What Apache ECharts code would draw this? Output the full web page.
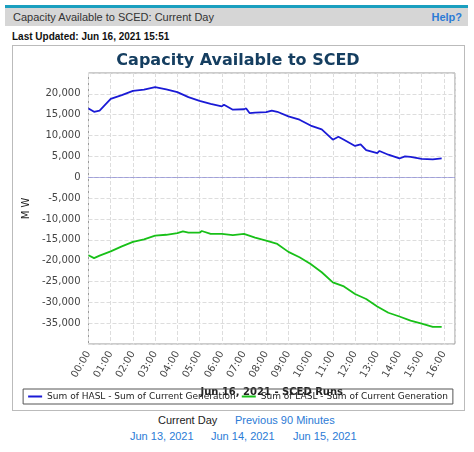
<!DOCTYPE html>
<html><head><meta charset="utf-8">
<script src="https://cdn.jsdelivr.net/npm/echarts@6/dist/echarts.min.js"></script>
<style>
body{margin:0;background:#fff;font-family:Arial,"Liberation Sans",sans-serif;}
#top{position:absolute;left:5px;top:5px;width:463px;height:3px;background:#1a9fbf;}
#hdr{position:absolute;left:5px;top:8px;width:463px;height:18px;background:#d6d6d6;font-size:11px;color:#333;line-height:18px;}
#hdr span{position:absolute;left:8px;}
#hdr a{position:absolute;right:6px;color:#2b7bd6;font-weight:bold;text-decoration:none;}
#upd{position:absolute;left:12px;top:31px;font-size:10px;font-weight:bold;color:#111;}
#box{position:absolute;left:12px;top:45px;width:451px;height:364px;border:1px solid #bbb;}
#c{position:absolute;left:13px;top:46px;width:450px;height:362px;}
.f{position:absolute;font-size:11px;}
.l{color:#2b7bd6;}
</style></head><body>
<div id="top"></div>
<div id="hdr"><span>Capacity Available to SCED: Current Day</span><a>Help?</a></div>
<div id="upd">Last Updated: Jun 16, 2021 15:51</div>
<div id="box"></div>
<div id="c"></div>
<div class="f" style="left:158px;top:414px;color:#222">Current Day</div>
<div class="f l" style="left:235px;top:414px">Previous 90 Minutes</div>
<div class="f l" style="left:130px;top:430px">Jun 13, 2021</div>
<div class="f l" style="left:211px;top:430px">Jun 14, 2021</div>
<div class="f l" style="left:293px;top:430px">Jun 15, 2021</div>
<script>
const hours=[0,0.25,0.5,1,1.5,2,2.5,3,3.5,4,4.5,5,5.5,6,6.1,6.5,7,7.1,7.25,7.5,8,8.25,8.5,9,9.5,10,10.5,11,11.25,11.5,12,12.25,12.5,13,13.1,13.5,14,14.25,14.5,15,15.5,15.9];
const hasl=[16500,15700,16000,18800,19700,20700,21000,21600,21100,20400,19200,18300,17600,17000,17400,16200,16300,16500,15400,15500,15600,16000,15700,14600,13800,12400,11500,9000,9700,9000,7500,7900,6500,5800,6300,5400,4500,5000,4900,4400,4300,4500];
const lHours=[0,0.25,0.5,1,1.5,2,2.5,3,3.5,4,4.25,4.5,5,5.1,5.5,6,6.5,7,7.5,8,8.5,9,9.5,10,10.5,11,11.5,12,12.5,13,13.5,14,14.5,15,15.5,15.9];
const lasl=[-18700,-19400,-18800,-17800,-16600,-15500,-14900,-14000,-13800,-13400,-13000,-13300,-13300,-12900,-13600,-13600,-13900,-13600,-14500,-15200,-16000,-17900,-19200,-20800,-22800,-25200,-26200,-28000,-29200,-31000,-32500,-33400,-34400,-35100,-35900,-35900];
const c=echarts.init(document.getElementById('c'));
const ff='Verdana,"DejaVu Sans",sans-serif';
c.setOption({
 animation:false,
 title:{text:'Capacity Available to SCED',left:'center',top:2,textStyle:{fontSize:16,fontWeight:'bold',color:'#153e60',fontFamily:ff}},
 grid:{left:64,right:8,top:27,bottom:64,show:true,borderColor:'#999',borderWidth:1},
 xAxis:{type:'value',min:0,max:16.5,interval:1,name:'Jun 16, 2021 - SCED Runs',nameLocation:'middle',nameGap:36,
  nameTextStyle:{fontSize:10,fontWeight:'bold',color:'#222',fontFamily:ff},
  axisLine:{show:false},axisTick:{show:false},
  axisLabel:{rotate:60,fontSize:10,color:'#444',fontFamily:ff,showMaxLabel:false,formatter:v=>v>16?'':String(v).padStart(2,'0')+':00'},
  splitLine:{lineStyle:{color:'#ddd',type:'dashed'}}},
 yAxis:{type:'value',min:-40000,max:25000,interval:5000,name:'M W',nameLocation:'middle',nameGap:55,
  nameTextStyle:{fontSize:10,color:'#222',fontFamily:ff},
  axisLine:{show:false},axisTick:{show:false},
  axisLabel:{fontSize:10,color:'#444',fontFamily:ff,formatter:v=>(v<=-40000||v>=25000)?'':v.toLocaleString('en-US')},
  splitLine:{lineStyle:{color:'#ddd',type:'dashed'}}},
 legend:{bottom:4,left:'center',itemWidth:14,itemHeight:2,itemGap:6,padding:[3,5],borderColor:'#555',borderWidth:1,
  textStyle:{fontSize:9,color:'#222',fontFamily:ff},icon:'rect'},
 series:[
  {name:'Sum of HASL - Sum of Current Generation',type:'line',symbol:'none',color:'#1a1ad6',lineStyle:{width:1.8},
   data:hours.map((h,i)=>[h,hasl[i]]),
   markLine:{silent:true,symbol:'none',label:{show:false},lineStyle:{color:'#6666cc',type:'dotted',width:1},data:[{yAxis:0}]}},
  {name:'Sum of LASL - Sum of Current Generation',type:'line',symbol:'none',color:'#18c018',lineStyle:{width:1.8},
   data:lHours.map((h,i)=>[h,lasl[i]])}
 ]
});
</script></body></html>
